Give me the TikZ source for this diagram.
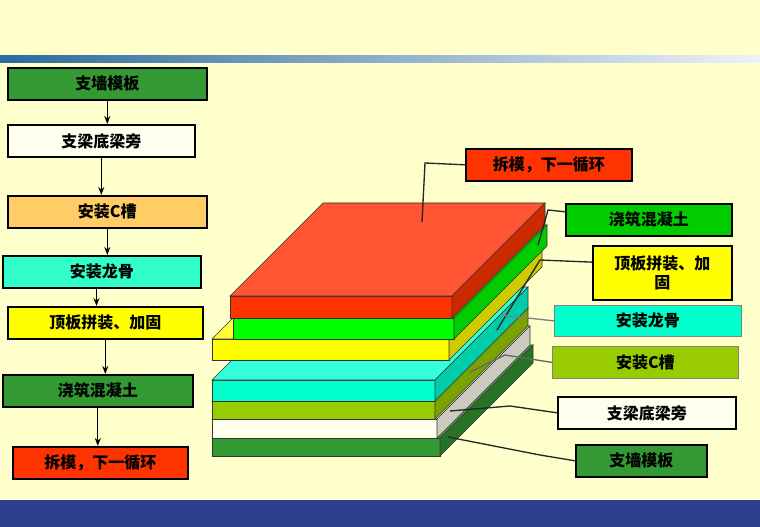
\documentclass[tikz,border=0pt]{standalone}
\usepackage{fontspec}
\setmainfont{Noto Sans CJK SC}
\usetikzlibrary{arrows.meta,calc}
\definecolor{bg}{HTML}{FFFFCC}
\definecolor{dg}{HTML}{339933}
\definecolor{cr}{HTML}{FFFFEE}
\definecolor{org}{HTML}{FFCC66}
\definecolor{cy}{HTML}{33FFCC}
\definecolor{cyf}{HTML}{00FFCC}
\definecolor{cyt}{HTML}{33FFDD}
\definecolor{cys}{HTML}{00CCAA}
\definecolor{ye}{HTML}{FFFF00}
\definecolor{rd}{HTML}{FF3300}
\definecolor{rdt}{HTML}{FF5533}
\definecolor{gr}{HTML}{00CC00}
\definecolor{ol}{HTML}{99CC00}
\definecolor{band}{HTML}{2F3F8F}
\definecolor{gl}{HTML}{2C6A9C}
\definecolor{grr}{HTML}{EEF2F8}
\newcommand\slab[7]{%
  \filldraw[draw=black!80,fill=#5] (#1,#3) rectangle (#2,#4);
  \filldraw[draw=black!80,fill=#6] (#1,#3) -- ++(93,-93) -- ($(#2,#3)+(93,-93)$) -- (#2,#3) -- cycle;
  \filldraw[draw=black!80,fill=#7] (#2,#3) -- ++(93,-93) -- ($(#2,#4)+(93,-93)$) -- (#2,#4) -- cycle;}
\tikzset{box/.style={draw=black,line width=1.2pt,font=\bfseries\fontsize{12}{14}\selectfont,inner sep=0pt,anchor=north west},
 arr/.style={-{Stealth[length=6pt]},line width=1pt},
 lead/.style={line width=1pt,black!85}}
\begin{document}
\begin{tikzpicture}[x=0.75pt,y=-0.75pt]
\fill[bg] (0,0) rectangle (760,527);
\useasboundingbox (0,0) rectangle (760,527);
\shade[left color=gl,right color=grr] (0,56) rectangle (760,63);
\fill[band] (0,500) rectangle (760,527);
% left column
\node[box,fill=dg,minimum width=149.25pt,minimum height=24pt] (l1) at (7,67) {支墙模板};
\node[box,fill=cr,minimum width=140.25pt,minimum height=24pt] (l2) at (7,124) {支梁底梁旁};
\node[box,fill=org,minimum width=149.25pt,minimum height=24pt] (l3) at (7,195) {安装C槽};
\node[box,fill=cy,minimum width=148.5pt,minimum height=24pt] (l4) at (2,255) {安装龙骨};
\node[box,fill=ye,minimum width=146.25pt,minimum height=24pt] (l5) at (7,306) {顶板拼装、加固};
\node[box,fill=dg,minimum width=142.5pt,minimum height=24pt] (l6) at (2,374) {浇筑混凝土};
\node[box,fill=rd,minimum width=131.25pt,minimum height=24pt] (l7) at (12,446) {拆模，下一循环};
\draw[arr] (l1.south) -- (l1.south |- l2.north);
\draw[arr] (l2.south) -- (l2.south |- l3.north);
\draw[arr] (l3.south) -- (l3.south |- l4.north);
\draw[arr] ([xshift=-4pt]l4.south) -- ([xshift=-4pt]l4.south |- l5.north);
\draw[arr] (l5.south) -- (l5.south |- l6.north);
\draw[arr] (l6.south) -- (l6.south |- l7.north);
% slabs
\slab{212}{440}{438}{456}{dg}{dg!90!white}{dg!75!black}
\slab{212}{437}{419}{438}{cr}{cr}{black!20!cr}
\slab{212}{435}{401}{419}{ol}{ol}{ol!80!black}
\slab{212}{435}{380}{401}{cyf}{cyt}{cys}
\slab{212}{449}{339}{360}{ye}{ye!80!white}{ye!80!black}
\slab{233}{454}{318}{339}{green}{green}{green!80!black}
\slab{230}{452}{296}{318}{rd}{rdt}{rd!80!black}
% right labels
\node[box,fill=rd,minimum width=124.5pt,minimum height=24pt] (r1) at (465,148) {拆模，下一循环};
\node[box,fill=gr,minimum width=124.5pt,minimum height=24pt] (r2) at (565,203) {浇筑混凝土};
\node[box,fill=ye,minimum width=104.25pt,minimum height=40.5pt,align=center] (r3) at (592,245) {顶板拼装、加\\固};
\node[box,draw=black!50,line width=0.6pt,fill=cyf,minimum width=140.25pt,minimum height=23.25pt] (r4) at (554,305) {安装龙骨};
\node[box,draw=black!50,line width=0.6pt,fill=ol,minimum width=139.5pt,minimum height=24pt] (r5) at (552,346) {安装C槽};
\node[box,fill=cr,minimum width=133.5pt,minimum height=24pt] (r6) at (557,396) {支梁底梁旁};
\node[box,fill=dg,minimum width=98.25pt,minimum height=24pt] (r7) at (575,444) {支墙模板};
\coordinate (e1) at (422,222); \coordinate (e2) at (538,245);
\coordinate (e3) at (497,330); \coordinate (e4) at (500,315);
\coordinate (e5) at (470,372); \coordinate (e6) at (450,411);
\coordinate (e7) at (448,437);
\draw[lead] (r1.west) -- (425,163) -- (e1);
\draw[lead] ([yshift=6pt]r2.west) -- (548,210) -- (e2);
\draw[lead] ([yshift=8pt]r3.west) -- (540,260) -- (e3);
\draw[lead,black!50] (r4.west) -- (e4);
\draw[lead,black!60] (r5.west) -- (505,355) -- (e5);
\draw[lead] (r6.west) -- (510,406) -- (e6);
\draw[lead] (r7.west) -- (540,455) -- (e7);
\end{tikzpicture}
\end{document}
